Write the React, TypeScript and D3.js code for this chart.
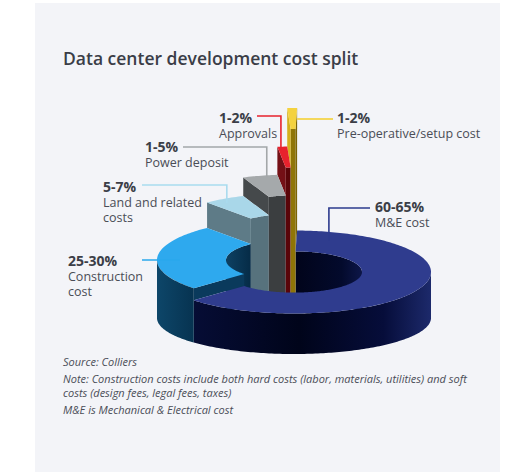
import React from 'react';
import * as d3 from 'd3';

// ---- data ----
const categories = ['M&E cost', 'Construction cost', 'Land and related costs', 'Power deposit', 'Approvals', 'Pre-operative/setup cost'];
const rangeLabels = ['60-65%', '25-30%', '5-7%', '1-5%', '1-2%', '1-2%'];
// drawn share of the ring, in %
const shareValues = [62.7, 26.0, 4.9, 4.1, 1.15, 1.15];

const titleText = 'Data center development cost split';
const notes = [
  'Source: Colliers',
  'Note: Construction costs include both hard costs (labor, materials, utilities) and soft',
  'costs (design fees, legal fees, taxes)',
  'M&E is Mechanical & Electrical cost',
];

// ---- styling / layout ----
const W = 523;
const H = 472;
const R = 137;
const RI = 68;
const CX = 294;
const CY0 = 318; // centre of the bottom ellipse
const START = (1.3 * Math.PI) / 180;

// slice heights (px above the base)
const heights = [46, 58, 83.5, 102, 130, 168.5];
const topColors = ['#2f3c8e', '#2ea9ee', '#a9d7e9', '#a5a9ab', '#e8222d', '#f4d23f'];
const sideColors = ['#0a1346', '#0a3a5c', '#5e7b87', '#45494b', '#741016', '#d4b01e'];
const innerColors = ['url(#meInner)', 'url(#conInner)', '#57727d', '#3b3e40', '#5a0509', '#8f7507'];
const lineColors = ['#2d3b8d', '#2aa8ec', '#a9dbee', '#a3a7a9', '#e8222d', '#f4cf2a'];
// how each category name is wrapped on the chart
const nameLines = [['M&E cost'], ['Construction', 'cost'], ['Land and related', 'costs'], ['Power deposit'], ['Approvals'], ['Pre-operative/setup cost']];
const labelLayout = [
  { x: 375, y: 212, lineY: 208, lineX0: 370, ang: 18.5, r: 110, elbow: true },
  { x: 68, y: 266, lineY: 260, lineX0: 142, ang: 270, r: 114, elbow: false },
  { x: 103, y: 192, lineY: 185, lineX0: 142, ang: 327.2, r: 124, elbow: true },
  { x: 145, y: 152, lineY: 147, lineX0: 183, ang: 348, r: 131, elbow: true },
  { x: 219, y: 123, lineY: 116, lineX0: 257, ang: 354, r: 125, elbow: true },
  { x: 337, y: 123, lineY: 119, lineX0: 333, ang: 361.3, r: 137, elbow: false },
];

const ryAt = (h: number) => Math.min(41.5, 36 + (5.5 * h) / 46);
const proj = (a: number, r: number, h: number): [number, number] => [
  CX + r * Math.sin(a),
  CY0 - h - (r / R) * ryAt(h) * Math.cos(a),
];
const arcPts = (a0: number, a1: number, r: number, h: number) => {
  const n = Math.max(2, Math.ceil(Math.abs(a1 - a0) / 0.02));
  return d3.range(n + 1).map((i) => proj(a0 + ((a1 - a0) * i) / n, r, h));
};
const poly = (pts: [number, number][]) => (d3.line()(pts) || '') + 'Z';

const clip = (a0: number, a1: number, lo: number, hi: number): [number, number] | null => {
  const s = Math.max(a0, lo);
  const e = Math.min(a1, hi);
  return e > s ? [s, e] : null;
};

export default function App() {
  const pie = d3.pie<number>().sort(null).value((d) => d).startAngle(START).endAngle(START + 2 * Math.PI);
  const arcs = pie(shareValues);

  const inner: React.ReactNode[] = [];
  const radial: React.ReactNode[] = [];
  const tops: React.ReactNode[] = [];
  const outer: React.ReactNode[] = [];
  let meTop: React.ReactNode = null;

  arcs.forEach((a, i) => {
    const h = heights[i];
    const a0 = a.startAngle;
    const a1 = a.endAngle;
    // inner wall: only the back half faces us
    [clip(a0, a1, -Math.PI / 2, Math.PI / 2), clip(a0, a1, (3 * Math.PI) / 2, (5 * Math.PI) / 2)].forEach((rg, k) => {
      if (!rg) return;
      inner.push(
        <path key={`in${i}${k}`} d={poly([...arcPts(rg[0], rg[1], RI, h), ...arcPts(rg[1], rg[0], RI, 0)])} fill={innerColors[i]} />
      );
    });
    // outer wall: front half
    const og = clip(a0, a1, Math.PI / 2, (3 * Math.PI) / 2);
    if (og) {
      outer.push(
        <path key={`out${i}`} d={poly([...arcPts(og[0], og[1], R, h), ...arcPts(og[1], og[0], R, 0)])}
          fill={i === 0 ? 'url(#meWall)' : 'url(#conWall)'} />
      );
    }
    // radial faces, only the part standing above the neighbour
    const prevH = heights[(i + heights.length - 1) % heights.length];
    if (Math.sin(a0) < 0 && h > prevH) {
      radial.push(
        <path key={`rs${i}`} d={poly([proj(a0, RI, prevH), proj(a0, R, prevH), proj(a0, R, h), proj(a0, RI, h)])} fill={sideColors[i]} />
      );
    }
    const nextH = heights[(i + 1) % heights.length];
    if (Math.sin(a1) > 0 && h > nextH) {
      radial.push(
        <path key={`re${i}`} d={poly([proj(a1, RI, nextH), proj(a1, R, nextH), proj(a1, R, h), proj(a1, RI, h)])} fill="#7a6304" />
      );
    }
    const top = <path key={`top${i}`} d={poly([...arcPts(a0, a1, R, h), ...arcPts(a1, a0, RI, h)])} fill={topColors[i]} />;
    if (i === 0) meTop = top;
    else tops.push(top);
  });

  const labels = labelLayout.map((l, i) => {
    const a = (l.ang * Math.PI) / 180;
    const [ax, ay] = proj(a, l.r, heights[i]);
    const d = l.elbow ? `M${l.lineX0},${l.lineY}H${ax}V${ay}` : `M${l.lineX0},${l.lineY}H${ax}`;
    return (
      <g key={`lab${i}`}>
        <path d={d} fill="none" stroke={lineColors[i]} strokeWidth={1.6} />
        <text x={l.x} y={l.y} fontSize={14} fontWeight={700} fill="#3b3e47">{rangeLabels[i]}</text>
        {nameLines[i].map((t, j) => (
          <text key={j} x={l.x} y={l.y + 15 + j * 14.5} fontSize={12.5} fill="#4a4d56">{t}</text>
        ))}
      </g>
    );
  });

  return (
    <svg width={W} height={H} viewBox={`0 0 ${W} ${H}`}
      style={{ position: 'absolute', left: 0, top: 0, fontFamily: '"Open Sans", sans-serif' }}>
      <defs>
        <linearGradient id="meWall" gradientUnits="userSpaceOnUse" x1={190} y1={0} x2={432} y2={0}>
          <stop offset="0" stopColor="#060d36" />
          <stop offset="0.45" stopColor="#00041a" />
          <stop offset="0.8" stopColor="#060d3a" />
          <stop offset="1" stopColor="#1d2a6c" />
        </linearGradient>
        <linearGradient id="conWall" gradientUnits="userSpaceOnUse" x1={157} y1={0} x2={192} y2={0}>
          <stop offset="0" stopColor="#0d4669" />
          <stop offset="1" stopColor="#073452" />
        </linearGradient>
        <linearGradient id="meInner" gradientUnits="userSpaceOnUse" x1={294} y1={0} x2={362} y2={0}>
          <stop offset="0" stopColor="#01041a" />
          <stop offset="0.7" stopColor="#030a2c" />
          <stop offset="1" stopColor="#0d1648" />
        </linearGradient>
        <linearGradient id="conInner" gradientUnits="userSpaceOnUse" x1={226} y1={0} x2={252} y2={0}>
          <stop offset="0" stopColor="#0e4163" />
          <stop offset="1" stopColor="#052a45" />
        </linearGradient>
      </defs>
      <rect x={0} y={0} width={W} height={H} fill="#ffffff" />
      <rect x={35} y={3} width={465} height={H - 3} fill="#f3f4f8" />
      <text x={63} y={65} fontSize={17.5} fontWeight={600} fill="#3a3d47">{titleText}</text>

      {inner}
      {radial}
      {tops}
      {outer}
      {meTop}

      {labels}

      {notes.map((t, i) => (
        <text key={i} x={63} y={[366, 383, 397, 414][i]} fontSize={11} fontStyle="italic" fill="#4a4d57">{t}</text>
      ))}
    </svg>
  );
}
